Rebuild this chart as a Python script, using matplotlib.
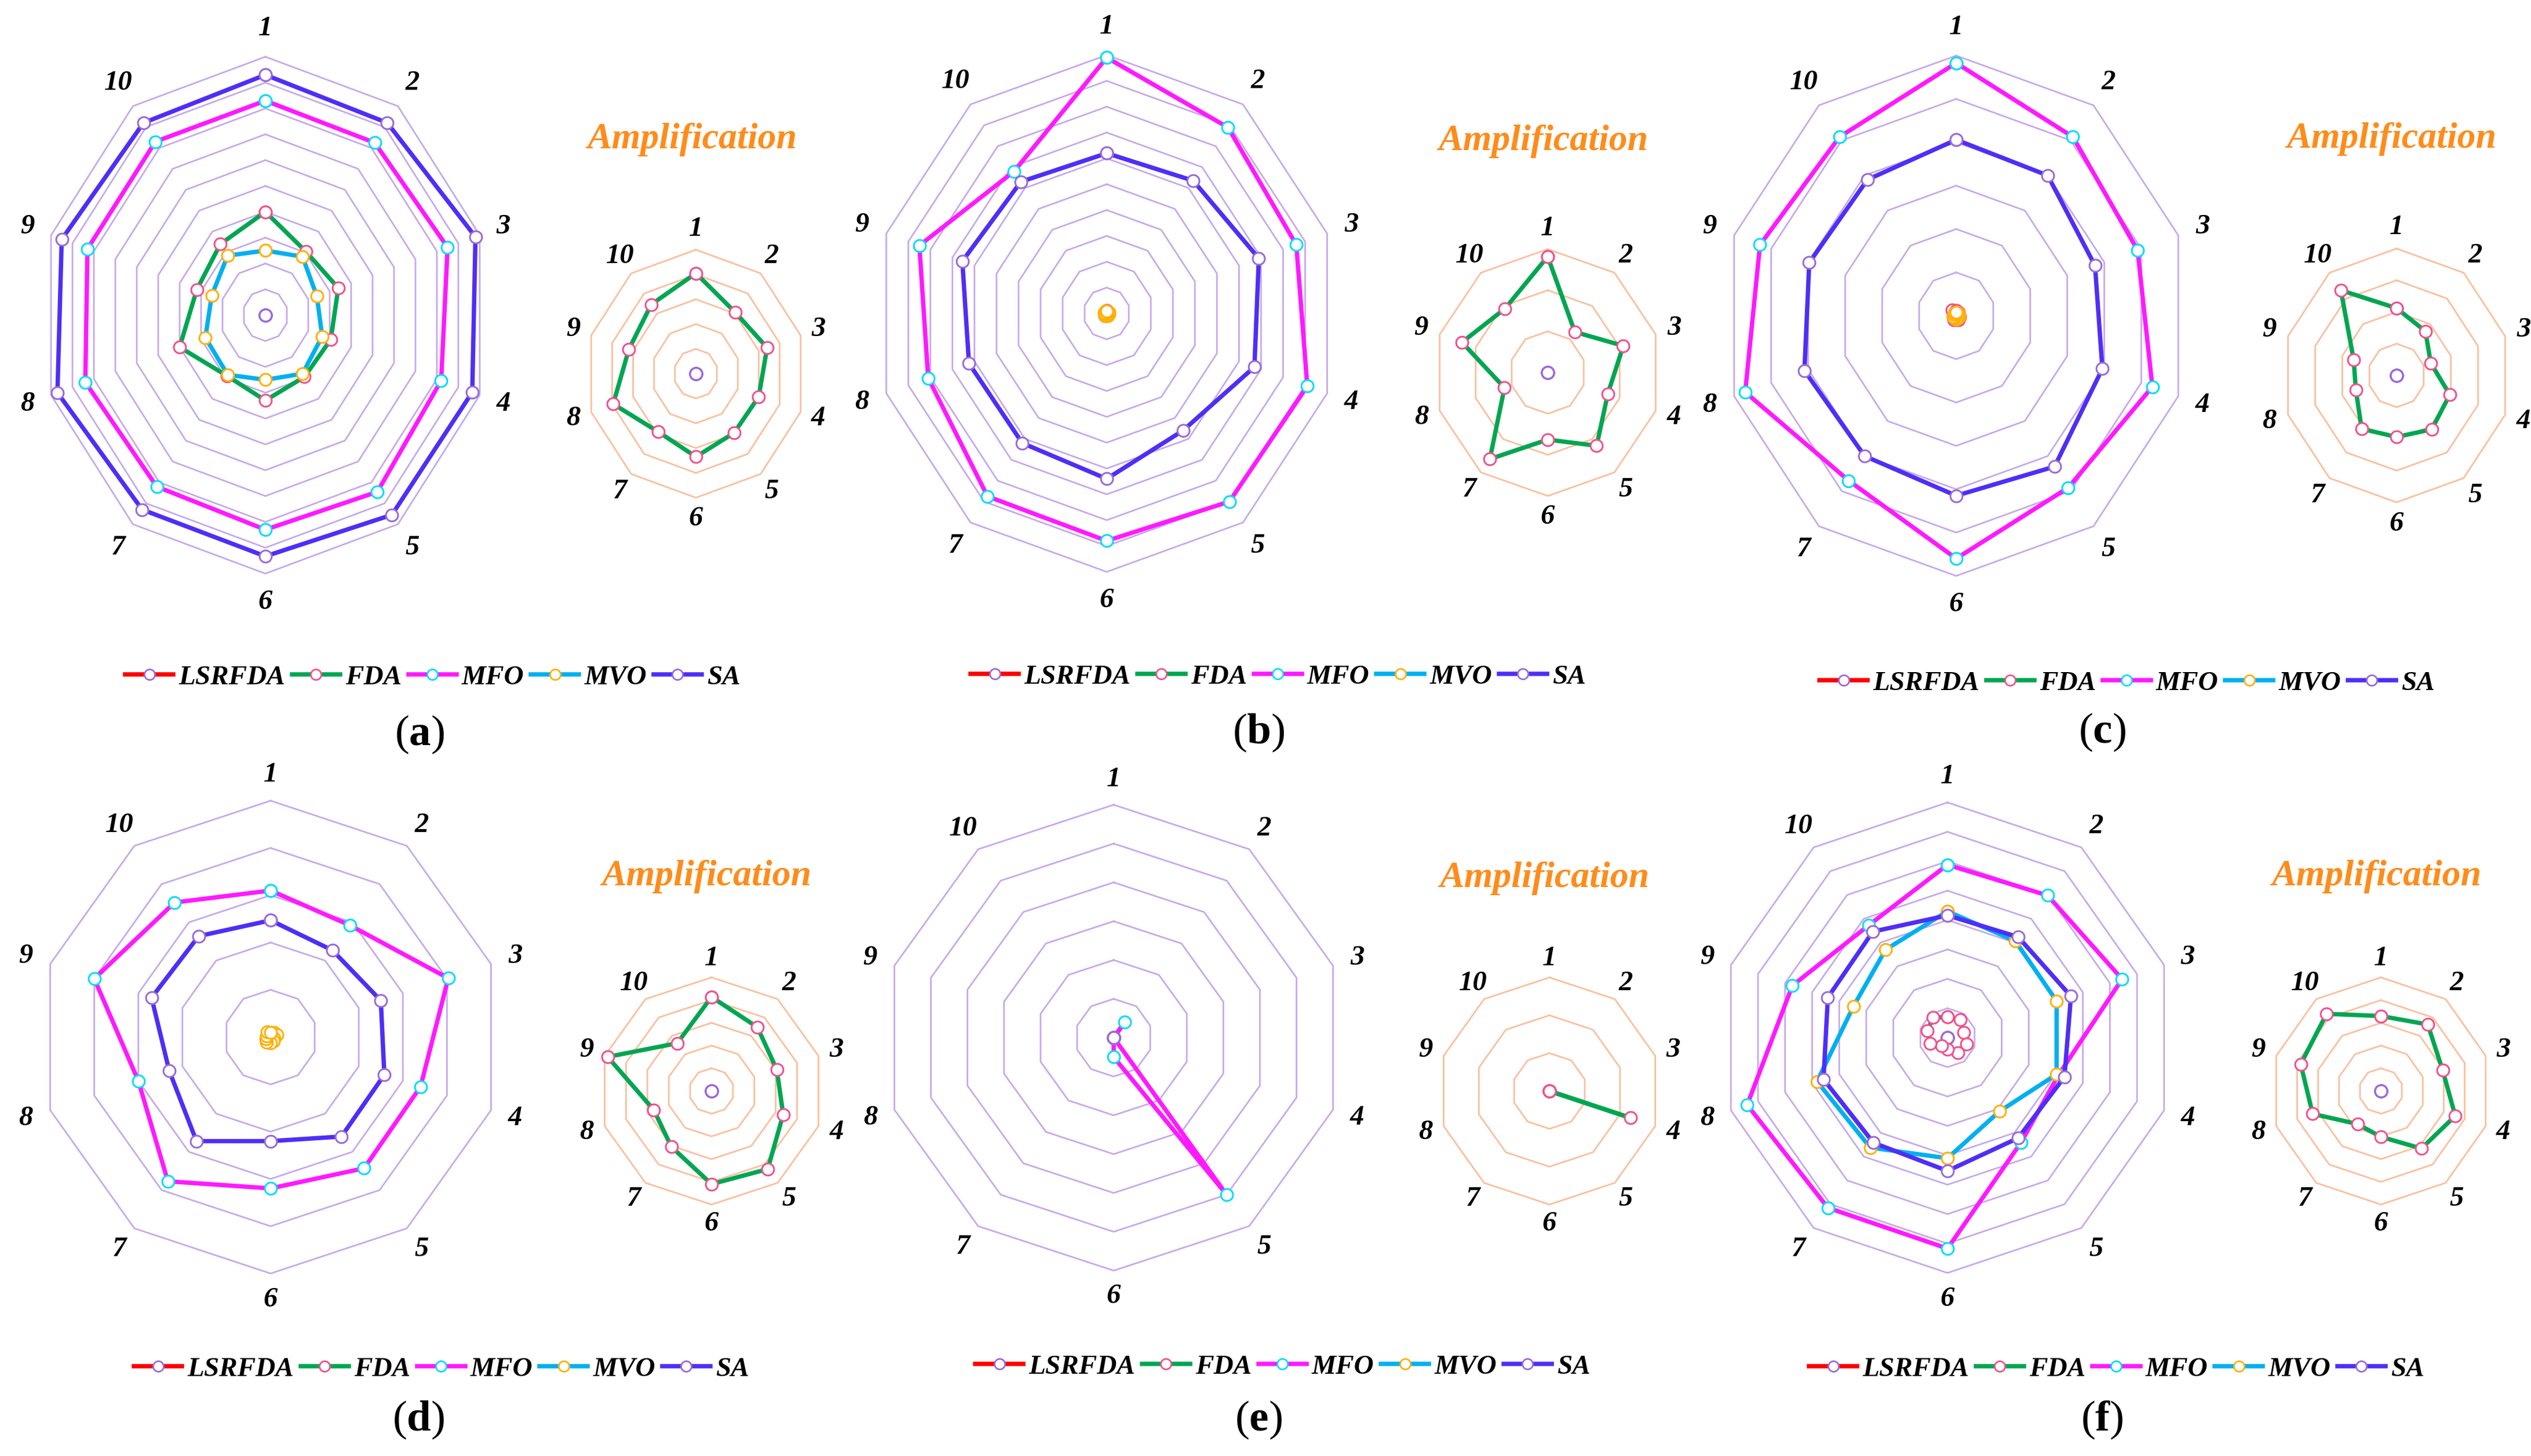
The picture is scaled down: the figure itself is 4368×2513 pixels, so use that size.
import numpy as np
import matplotlib.pyplot as plt
from matplotlib.lines import Line2D

plt.rcParams['font.family'] = ['Liberation Serif', 'DejaVu Serif']
plt.rcParams['mathtext.fontset'] = 'custom'
plt.rcParams['mathtext.rm'] = 'Liberation Serif'
plt.rcParams['mathtext.bf'] = 'Liberation Serif:bold'

axis_labels = ['1', '2', '3', '4', '5', '6', '7', '8', '9', '10']
algorithms = ['LSRFDA', 'FDA', 'MFO', 'MVO', 'SA']

# (a)
a_lsrfda = [0, 0, 0, 0, 0, 0, 0, 0, 0, 0]
a_fda = [4.0, 3.05, 3.4, 3.05, 2.95, 3.3, 2.9, 4.0, 3.2, 3.4]
a_mfo = [8.3, 8.25, 8.5, 8.2, 8.45, 8.3, 8.2, 8.4, 8.3, 8.3]
a_mvo = [2.5, 2.8, 2.4, 2.65, 2.8, 2.5, 2.85, 2.8, 2.5, 2.85]
a_sa = [9.3, 9.2, 9.8, 9.65, 9.55, 9.33, 9.3, 9.7, 9.5, 9.2]
a_amp_fda = [4.05, 3.05, 3.4, 3.0, 2.95, 3.35, 2.9, 3.95, 3.2, 3.45]

# (b)
b_lsrfda = [0, 0, 0, 0, 0, 0, 0, 0, 0, 0]
b_fda = [0.12, 0.05, 0.09, 0.07, 0.09, 0.07, 0.11, 0.05, 0.1, 0.08]
b_mfo = [9.9, 8.9, 8.6, 9.1, 9.0, 8.8, 8.75, 8.1, 8.5, 6.8]
b_mvo = [0.1, 0.09, 0.11, 0.1, 0.1, 0.09, 0.1, 0.11, 0.1, 0.1]
b_sa = [6.2, 6.35, 6.9, 6.7, 5.6, 6.4, 6.2, 6.25, 6.55, 6.3]
b_amp_fda = [2.82, 1.22, 2.1, 1.67, 2.2, 1.63, 2.6, 1.2, 2.38, 1.92]

# (c)
c_lsrfda = [0, 0, 0, 0, 0, 0, 0, 0, 0, 0]
c_fda = [0.12, 0.1, 0.07, 0.1, 0.11, 0.1, 0.11, 0.08, 0.08, 0.17]
c_mfo = [5.83, 5.1, 4.9, 5.3, 4.9, 5.6, 4.7, 5.7, 5.3, 5.1]
c_mvo = [0.08, 0.08, 0.08, 0.08, 0.07, 0.08, 0.07, 0.08, 0.07, 0.08]
c_sa = [4.06, 4.0, 3.75, 3.95, 4.3, 4.15, 4.0, 4.1, 3.97, 3.88]
c_amp_fda = [2.12, 1.72, 1.26, 1.96, 2.1, 1.94, 2.08, 1.5, 1.58, 3.32]

# (d)
d_lsrfda = [0, 0, 0, 0, 0, 0, 0, 0, 0, 0]
d_fda = [0.04, 0.03, 0.03, 0.03, 0.04, 0.04, 0.03, 0.03, 0.05, 0.03]
d_mfo = [3.1, 2.92, 4.03, 3.4, 3.43, 3.2, 3.77, 3.0, 4.0, 3.52]
d_mvo = [0.1, 0.12, 0.15, 0.08, 0.1, 0.12, 0.14, 0.1, 0.09, 0.13]
d_sa = [2.47, 2.27, 2.5, 2.58, 2.6, 2.2, 2.72, 2.3, 2.7, 2.64]
d_amp_fda = [4.14, 3.47, 3.05, 3.35, 4.25, 4.1, 3.04, 2.7, 4.86, 2.6]

# (e)
e_lsrfda = [0, 0, 0, 0, 0, 0, 0, 0, 0, 0]
e_fda = [0, 0, 0, 0, 0, 0, 0, 0, 0, 0]
e_mfo = [0, 0.5, 0, 0, 5.0, 0.5, 0, 0, 0, 0]
e_mvo = [0, 0, 0, 0, 0, 0, 0, 0, 0, 0]
e_sa = [0, 0, 0, 0, 0, 0, 0, 0, 0, 0]
e_amp_fda = [0, 0, 0, 2.3, 0, 0, 0, 0, 0, 0]

# (f)
f_lsrfda = [0, 0, 0, 0, 0, 0, 0, 0, 0, 0]
f_fda = [0.7, 0.76, 0.6, 0.7, 0.64, 0.4, 0.35, 0.65, 0.75, 0.85]
f_mfo = [5.88, 5.98, 6.45, 4.1, 4.4, 7.17, 7.15, 7.4, 5.73, 4.72]
f_mvo = [4.3, 4.06, 4.03, 4.03, 3.1, 4.1, 4.62, 4.82, 3.47, 3.7]
f_sa = [4.16, 4.23, 4.56, 4.32, 4.22, 4.53, 4.42, 4.58, 4.42, 4.46]
f_amp_fda = [3.3, 3.62, 2.95, 3.55, 3.13, 2.02, 1.8, 3.26, 3.83, 4.2]

line_c = {'LSRFDA': '#FF0000', 'FDA': '#00A651', 'MFO': '#FF19FF',
          'MVO': '#00B0F0', 'SA': '#4F2EF7'}
mark_c = {'LSRFDA': '#9B6AD6', 'FDA': '#F2508C', 'MFO': '#00DDF5',
          'MVO': '#FFB000', 'SA': '#9B6AD6'}
ring_main = '#C6A8EA'
ring_amp = '#FBBE9C'

W, H = 4368, 2513
fig = plt.figure(figsize=(W / 100, H / 100), dpi=100)

theta = np.deg2rad(np.arange(10) * 36)
closed = np.append(theta, theta[0])


def radar(cx, cy, rx, ry, n_rings, ring_color, series, lab_r):
    k = 1.35
    ax = fig.add_axes([(cx - k * rx) / W, 1 - (cy + k * ry) / H,
                       2 * k * rx / W, 2 * k * ry / H])
    ax.set_xlim(-k * n_rings, k * n_rings)
    ax.set_ylim(-k * n_rings, k * n_rings)
    ax.axis('off')
    for lvl in range(1, n_rings + 1):
        ax.plot(lvl * np.sin(closed), lvl * np.cos(closed),
                color=ring_color, lw=2.0, zorder=1)
    for z, (name, vals) in enumerate(series):
        v = np.append(vals, vals[0])
        ax.plot(v * np.sin(closed), v * np.cos(closed), color=line_c[name],
                lw=5.4, marker='o', ms=15, mfc='white', mec=mark_c[name],
                mew=2.2, zorder=2 + z, clip_on=False)
    for i, lab in enumerate(axis_labels):
        ax.text(lab_r * n_rings * np.sin(theta[i]),
                lab_r * n_rings * np.cos(theta[i]), lab,
                ha='center', va='center', fontsize=35,
                fontweight='bold', fontstyle='italic')
    return ax


panels = [
    ('a', [a_lsrfda, a_fda, a_mfo, a_mvo, a_sa], a_amp_fda, 10, 5,
     (458, 544, 389, 446), (1201, 645, 190, 214), (1194, 241), (747, 1169), (724, 1268)),
    ('b', [b_lsrfda, b_fda, b_mfo, b_mvo, b_sa], b_amp_fda, 10, 3,
     (1910, 541, 400, 446), (2671, 643, 196, 213), (2663, 244), (2206, 1168), (2172, 1265)),
    ('c', [c_lsrfda, c_fda, c_mfo, c_mvo, c_sa], c_amp_fda, 6, 4,
     (3376, 545, 403, 449), (4136, 648, 197, 219), (4127, 240), (3671, 1179), (3628, 1264)),
    ('d', [d_lsrfda, d_fda, d_mfo, d_mvo, d_sa], d_amp_fda, 5, 5,
     (467, 1790, 400, 408), (1228, 1883, 194, 196), (1219, 1513), (762, 2363), (722, 2451)),
    ('e', [e_lsrfda, e_fda, e_mfo, e_mvo, e_sa], e_amp_fda, 6, 3,
     (1922, 1791, 398, 402), (2674, 1883, 192, 196), (2665, 1516), (2214, 2359), (2172, 2451)),
    ('f', [f_lsrfda, f_fda, f_mfo, f_mvo, f_sa], f_amp_fda, 8, 5,
     (3361, 1791, 393, 406), (4109, 1883, 190, 196), (4101, 1513), (3653, 2363), (3628, 2451)),
]

for tag, main_vals, amp_fda, n_main, n_amp, mg, ag, amp_txt, leg_pos, tag_pos in panels:
    radar(*mg, n_main, ring_main, list(zip(algorithms, main_vals)), 1.11)
    radar(*ag, n_amp, ring_amp,
          [('LSRFDA', main_vals[0]), ('FDA', amp_fda)], 1.17)
    fig.text(amp_txt[0] / W, 1 - amp_txt[1] / H, 'Amplification',
             ha='center', va='center', fontsize=46, color='#FF8C1A',
             fontweight='bold', fontstyle='italic')
    handles = [Line2D([], [], color=line_c[n], lw=5.4, marker='o', ms=13,
                      mfc='white', mec=mark_c[n], mew=2.0) for n in algorithms]
    fig.legend(handles, algorithms, loc='center',
               bbox_to_anchor=(leg_pos[0] / W, 1 - leg_pos[1] / H),
               ncol=5, frameon=False, handlelength=1.75, handletextpad=0.2,
               columnspacing=0.25,
               prop={'family': 'Liberation Serif', 'weight': 'bold',
                     'style': 'italic', 'size': 34})
    fig.text(tag_pos[0] / W, 1 - tag_pos[1] / H, '($\\mathbf{' + tag + '}$)',
             ha='center', va='center', fontsize=54)

fig.savefig('out.png', dpi=100, facecolor='white')
